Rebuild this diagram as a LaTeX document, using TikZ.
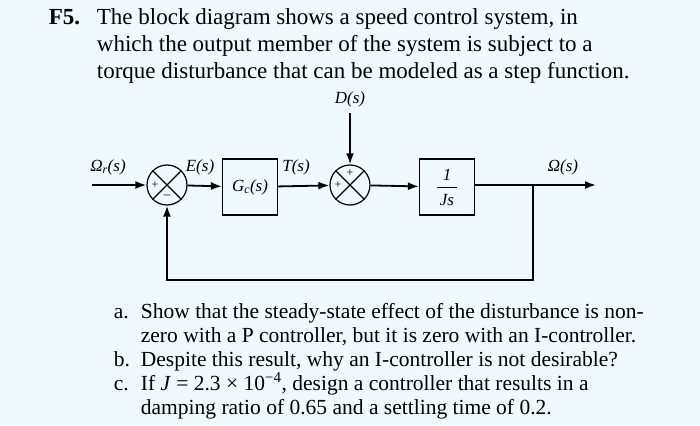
\documentclass[tikz,border=0pt]{standalone}
\usepackage{fontspec}
\setmainfont{Liberation Serif}
\usetikzlibrary{arrows.meta}
\begin{document}
\begin{tikzpicture}[x=1pt,y=-1pt,
  line width=1.8pt,
  sumj/.style={draw,circle,minimum size=40pt,inner sep=0pt,line width=1.2pt},
  blk/.style={draw,rectangle,minimum width=55pt,minimum height=56pt,line width=1.2pt,font=\fontsize{17}{18}\selectfont\itshape},
  lab/.style={font=\fontsize{17}{18}\selectfont\itshape},
  txt/.style={font=\fontsize{21.5}{25}\selectfont,anchor=base west,inner sep=0pt},
  ttl/.style={font=\fontsize{23}{26}\selectfont,anchor=base west,inner sep=0pt},
  arr/.style={-{Latex[length=11pt,width=8pt]}}]
\fill[white!94!cyan] (0,0) rectangle (700,425);
\useasboundingbox (0,0) rectangle (700,425);
% title
\node[ttl,font=\fontsize{23}{26}\selectfont\bfseries] (f5) at (48,25) {F5.};
\node[ttl] (t1) at (96,25) {The block diagram shows a speed control system, in};
\node[ttl] (t2) at (96,52) {which the output member of the system is subject to a};
\node[ttl] (t3) at (96,79) {torque disturbance that can be modeled as a step function.};
% diagram
\coordinate (in) at (92,185);
\node[sumj] (s1) at (167,185) {};
\node[blk] (gc) at (250,187) {G\textsubscript{c}(s)};
\node[sumj] (s2) at (350,185) {};
\node[blk] (js) at (447,187) {};
\node[lab] (one) at (447,175) {1};
\draw[line width=0.8pt] (437,187) -- (457,187);
\node[lab] (jsl) at (447,200) {Js};
\coordinate (d) at (350,113);
\coordinate (br) at (533,185);
\coordinate (out) at (596,185);
\coordinate (fb) at (533,280);
\coordinate (fb2) at (167,280);
\foreach \s in {s1,s2}{
  \draw[line width=1.2pt] (\s.north west) -- (\s.south east) (\s.north east) -- (\s.south west);}
\node[font=\fontsize{12}{12}\selectfont] at (155,185) {+};
\node[font=\fontsize{13}{13}\selectfont] at (167,197) {--};
\node[font=\fontsize{12}{12}\selectfont] at (338,185) {+};
\node[font=\fontsize{12}{12}\selectfont] at (350,173) {+};
\draw[arr] (in) -- (s1);
\draw[arr] (s1) -- (gc);
\draw[arr] (gc) -- (s2);
\draw[arr] (d) -- (s2);
\draw[arr] (s2) -- (js);
\draw (js.east |- br) -- (br);
\draw[arr] (br) -- (out);
\draw[arr] (br) -- (fb) -- (fb2) -- (s1);
\node[lab] at (108,167) {Ω\textsubscript{r}(s)};
\node[lab] at (200,167) {E(s)};
\node[lab] at (296,167) {T(s)};
\node[lab] at (350,99) {D(s)};
\node[lab] at (563,167) {Ω(s)};
% questions
\node[txt] (a) at (113,318) {a.};
\node[txt] (qa1) at (140,318) {Show that the steady-state effect of the disturbance is non-};
\node[txt] (qa2) at (140,342) {zero with a P controller, but it is zero with an I-controller.};
\node[txt] (b) at (113,366) {b.};
\node[txt] (qb) at (140,366) {Despite this result, why an I-controller is not desirable?};
\node[txt] (c) at (113,390) {c.};
\node[txt] (qc1) at (140,390) {If \textit{J} = 2.3 × 10\textsuperscript{−4}, design a controller that results in a};
\node[txt] (qc2) at (140,414) {damping ratio of 0.65 and a settling time of 0.2.};
\end{tikzpicture}
\end{document}
